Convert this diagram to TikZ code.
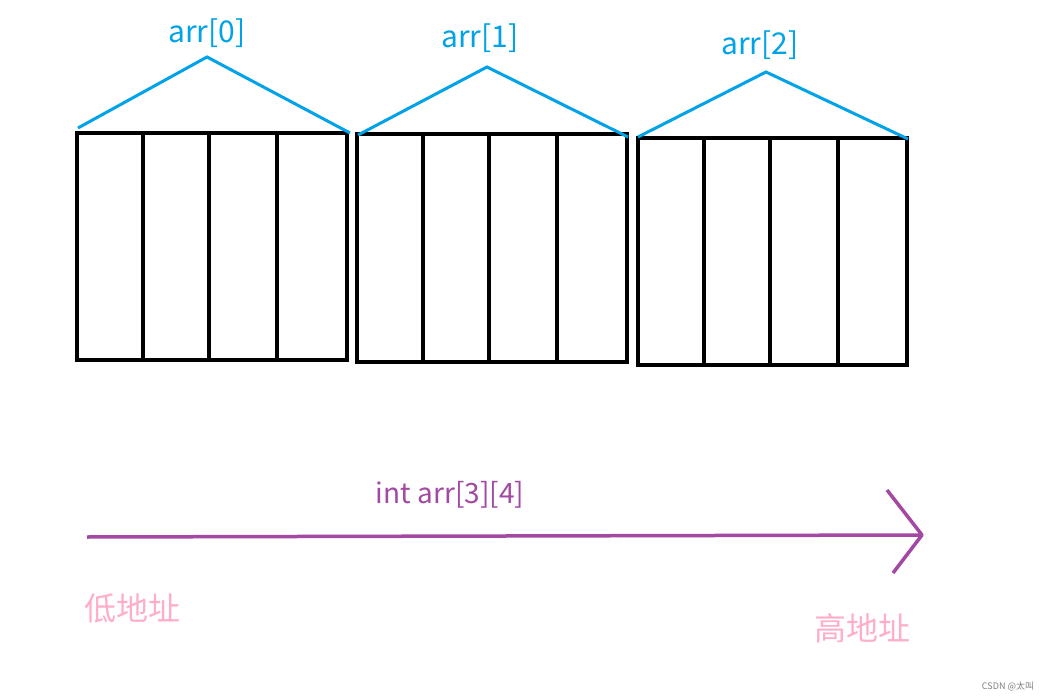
\documentclass[tikz,border=0pt]{standalone}
\usepackage{fontspec}
\setmainfont{Noto Sans CJK SC}
\begin{document}
\begin{tikzpicture}[x=1pt,y=-1pt,
  cell/.style={draw=black,line width=4pt},
  brace/.style={draw={rgb,255:red,0;green,162;blue,232},line width=3pt},
  lbl/.style={text={rgb,255:red,0;green,162;blue,232},font=\fontsize{30}{30}\selectfont},
  arr/.style={draw={rgb,255:red,163;green,73;blue,164},line width=3.5pt},
  pink/.style={text={rgb,255:red,255;green,174;blue,201},font=\fontsize{32}{32}\selectfont}]
\useasboundingbox (0,0) rectangle (1051,700);
\fill[white] (0,0) rectangle (1051,700);
% group 1
\foreach \a/\b in {77/143,143/209,209/277,277/347}
  \draw[cell] (\a,133) rectangle (\b,360);
\foreach \a/\b in {357/423,423/489,489/557,557/627}
  \draw[cell] (\a,134) rectangle (\b,362);
\foreach \a/\b in {638/704,704/770,770/838,838/907}
  \draw[cell] (\a,138) rectangle (\b,365);
\coordinate (p0) at (207,57); \coordinate (p1) at (487,67); \coordinate (p2) at (766,72);
\draw[brace] (78,128) -- (p0) -- (350,133);
\draw[brace] (358,135) -- (p1) -- (628,137);
\draw[brace] (638,137) -- (p2) -- (908,139);
\node[lbl] (l0) at (207,33) {arr[0]};
\node[lbl] (l1) at (480,38) {arr[1]};
\node[lbl] (l2) at (760,45) {arr[2]};
\coordinate (s) at (87,537); \coordinate (e) at (922,535);
\draw[arr] (s) -- (e);
\draw[arr,line join=round] (887,490) -- (e) -- (893,573);
\node[text={rgb,255:red,163;green,73;blue,164},font=\fontsize{28}{28}\selectfont] (t) at (450,495) {int arr[3][4]};
\node[pink] (lo) at (132,608) {低地址};
\node[pink] (hi) at (862,628) {高地址};
\node[text=gray,font=\fontsize{9}{9}\selectfont] (w) at (1008,686) {CSDN @太叫};
\end{tikzpicture}
\end{document}
